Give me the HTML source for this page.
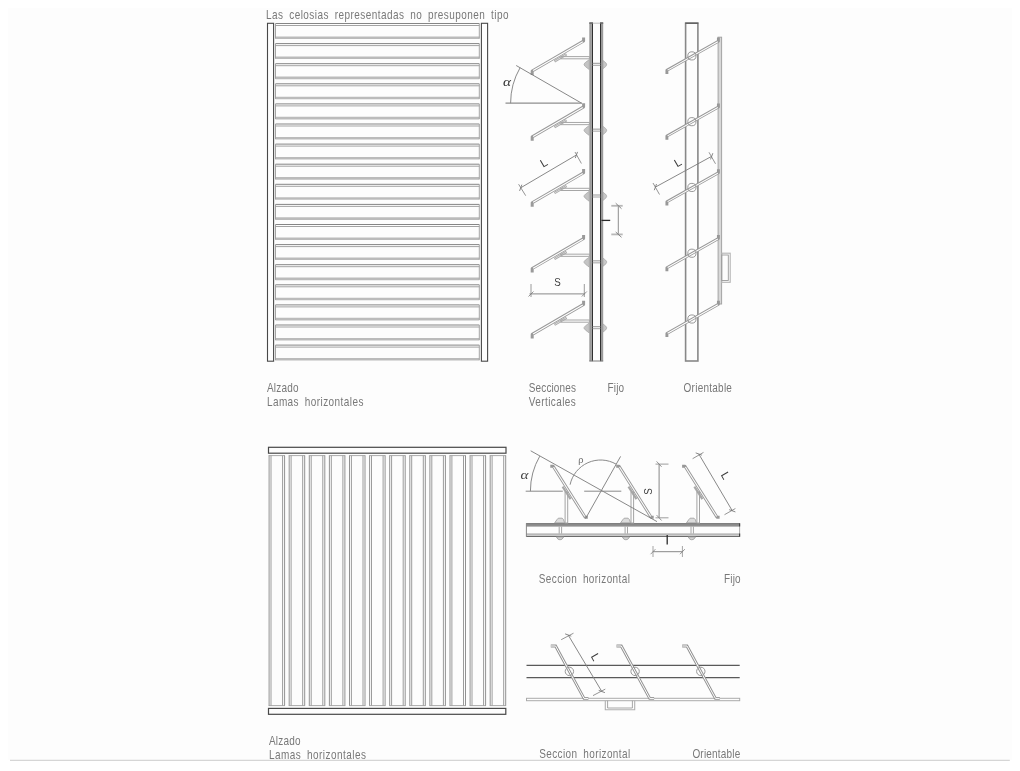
<!DOCTYPE html>
<html><head><meta charset="utf-8"><title>Celosias</title>
<style>
html,body{margin:0;padding:0;background:#fff;}
body{width:1020px;height:771px;overflow:hidden;}
svg{display:block;will-change:transform;font-family:"Liberation Sans",sans-serif;}
</style></head><body>
<svg width="1020" height="771" viewBox="0 0 1020 771">
<rect width="1020" height="771" fill="#fff"/>
<rect x="8" y="8" width="1004" height="752" fill="#fdfdfd"/>
<rect x="267.5" y="23.3" width="6.1" height="337.9" fill="none" stroke="#484848" stroke-width="1.1"/>
<rect x="481.4" y="23.3" width="6.2" height="337.9" fill="none" stroke="#484848" stroke-width="1.1"/>
<line x1="275.5" y1="23.5" x2="479.3" y2="23.5" stroke="#858585" stroke-width="1.0"/>
<line x1="275.5" y1="25.5" x2="479.3" y2="25.5" stroke="#999" stroke-width="0.9"/>
<line x1="275.5" y1="37.7" x2="479.3" y2="37.7" stroke="#bbbbbb" stroke-width="2.6"/>
<line x1="275.5" y1="23.5" x2="275.5" y2="38.6" stroke="#9a9a9a" stroke-width="0.9"/>
<line x1="479.3" y1="23.5" x2="479.3" y2="38.6" stroke="#9a9a9a" stroke-width="0.9"/>
<line x1="275.5" y1="43.6" x2="479.3" y2="43.6" stroke="#858585" stroke-width="1.0"/>
<line x1="275.5" y1="45.6" x2="479.3" y2="45.6" stroke="#999" stroke-width="0.9"/>
<line x1="275.5" y1="57.8" x2="479.3" y2="57.8" stroke="#bbbbbb" stroke-width="2.6"/>
<line x1="275.5" y1="43.6" x2="275.5" y2="58.7" stroke="#9a9a9a" stroke-width="0.9"/>
<line x1="479.3" y1="43.6" x2="479.3" y2="58.7" stroke="#9a9a9a" stroke-width="0.9"/>
<line x1="275.5" y1="63.7" x2="479.3" y2="63.7" stroke="#858585" stroke-width="1.0"/>
<line x1="275.5" y1="65.7" x2="479.3" y2="65.7" stroke="#999" stroke-width="0.9"/>
<line x1="275.5" y1="77.9" x2="479.3" y2="77.9" stroke="#bbbbbb" stroke-width="2.6"/>
<line x1="275.5" y1="63.7" x2="275.5" y2="78.8" stroke="#9a9a9a" stroke-width="0.9"/>
<line x1="479.3" y1="63.7" x2="479.3" y2="78.8" stroke="#9a9a9a" stroke-width="0.9"/>
<line x1="275.5" y1="83.8" x2="479.3" y2="83.8" stroke="#858585" stroke-width="1.0"/>
<line x1="275.5" y1="85.8" x2="479.3" y2="85.8" stroke="#999" stroke-width="0.9"/>
<line x1="275.5" y1="98" x2="479.3" y2="98" stroke="#bbbbbb" stroke-width="2.6"/>
<line x1="275.5" y1="83.8" x2="275.5" y2="98.9" stroke="#9a9a9a" stroke-width="0.9"/>
<line x1="479.3" y1="83.8" x2="479.3" y2="98.9" stroke="#9a9a9a" stroke-width="0.9"/>
<line x1="275.5" y1="103.9" x2="479.3" y2="103.9" stroke="#858585" stroke-width="1.0"/>
<line x1="275.5" y1="105.9" x2="479.3" y2="105.9" stroke="#999" stroke-width="0.9"/>
<line x1="275.5" y1="118.1" x2="479.3" y2="118.1" stroke="#bbbbbb" stroke-width="2.6"/>
<line x1="275.5" y1="103.9" x2="275.5" y2="119" stroke="#9a9a9a" stroke-width="0.9"/>
<line x1="479.3" y1="103.9" x2="479.3" y2="119" stroke="#9a9a9a" stroke-width="0.9"/>
<line x1="275.5" y1="124" x2="479.3" y2="124" stroke="#858585" stroke-width="1.0"/>
<line x1="275.5" y1="126" x2="479.3" y2="126" stroke="#999" stroke-width="0.9"/>
<line x1="275.5" y1="138.2" x2="479.3" y2="138.2" stroke="#bbbbbb" stroke-width="2.6"/>
<line x1="275.5" y1="124" x2="275.5" y2="139.1" stroke="#9a9a9a" stroke-width="0.9"/>
<line x1="479.3" y1="124" x2="479.3" y2="139.1" stroke="#9a9a9a" stroke-width="0.9"/>
<line x1="275.5" y1="144.1" x2="479.3" y2="144.1" stroke="#858585" stroke-width="1.0"/>
<line x1="275.5" y1="146.1" x2="479.3" y2="146.1" stroke="#999" stroke-width="0.9"/>
<line x1="275.5" y1="158.3" x2="479.3" y2="158.3" stroke="#bbbbbb" stroke-width="2.6"/>
<line x1="275.5" y1="144.1" x2="275.5" y2="159.2" stroke="#9a9a9a" stroke-width="0.9"/>
<line x1="479.3" y1="144.1" x2="479.3" y2="159.2" stroke="#9a9a9a" stroke-width="0.9"/>
<line x1="275.5" y1="164.2" x2="479.3" y2="164.2" stroke="#858585" stroke-width="1.0"/>
<line x1="275.5" y1="166.2" x2="479.3" y2="166.2" stroke="#999" stroke-width="0.9"/>
<line x1="275.5" y1="178.4" x2="479.3" y2="178.4" stroke="#bbbbbb" stroke-width="2.6"/>
<line x1="275.5" y1="164.2" x2="275.5" y2="179.3" stroke="#9a9a9a" stroke-width="0.9"/>
<line x1="479.3" y1="164.2" x2="479.3" y2="179.3" stroke="#9a9a9a" stroke-width="0.9"/>
<line x1="275.5" y1="184.3" x2="479.3" y2="184.3" stroke="#858585" stroke-width="1.0"/>
<line x1="275.5" y1="186.3" x2="479.3" y2="186.3" stroke="#999" stroke-width="0.9"/>
<line x1="275.5" y1="198.5" x2="479.3" y2="198.5" stroke="#bbbbbb" stroke-width="2.6"/>
<line x1="275.5" y1="184.3" x2="275.5" y2="199.4" stroke="#9a9a9a" stroke-width="0.9"/>
<line x1="479.3" y1="184.3" x2="479.3" y2="199.4" stroke="#9a9a9a" stroke-width="0.9"/>
<line x1="275.5" y1="204.4" x2="479.3" y2="204.4" stroke="#858585" stroke-width="1.0"/>
<line x1="275.5" y1="206.4" x2="479.3" y2="206.4" stroke="#999" stroke-width="0.9"/>
<line x1="275.5" y1="218.6" x2="479.3" y2="218.6" stroke="#bbbbbb" stroke-width="2.6"/>
<line x1="275.5" y1="204.4" x2="275.5" y2="219.5" stroke="#9a9a9a" stroke-width="0.9"/>
<line x1="479.3" y1="204.4" x2="479.3" y2="219.5" stroke="#9a9a9a" stroke-width="0.9"/>
<line x1="275.5" y1="224.5" x2="479.3" y2="224.5" stroke="#858585" stroke-width="1.0"/>
<line x1="275.5" y1="226.5" x2="479.3" y2="226.5" stroke="#999" stroke-width="0.9"/>
<line x1="275.5" y1="238.7" x2="479.3" y2="238.7" stroke="#bbbbbb" stroke-width="2.6"/>
<line x1="275.5" y1="224.5" x2="275.5" y2="239.6" stroke="#9a9a9a" stroke-width="0.9"/>
<line x1="479.3" y1="224.5" x2="479.3" y2="239.6" stroke="#9a9a9a" stroke-width="0.9"/>
<line x1="275.5" y1="244.6" x2="479.3" y2="244.6" stroke="#858585" stroke-width="1.0"/>
<line x1="275.5" y1="246.6" x2="479.3" y2="246.6" stroke="#999" stroke-width="0.9"/>
<line x1="275.5" y1="258.8" x2="479.3" y2="258.8" stroke="#bbbbbb" stroke-width="2.6"/>
<line x1="275.5" y1="244.6" x2="275.5" y2="259.7" stroke="#9a9a9a" stroke-width="0.9"/>
<line x1="479.3" y1="244.6" x2="479.3" y2="259.7" stroke="#9a9a9a" stroke-width="0.9"/>
<line x1="275.5" y1="264.7" x2="479.3" y2="264.7" stroke="#858585" stroke-width="1.0"/>
<line x1="275.5" y1="266.7" x2="479.3" y2="266.7" stroke="#999" stroke-width="0.9"/>
<line x1="275.5" y1="278.9" x2="479.3" y2="278.9" stroke="#bbbbbb" stroke-width="2.6"/>
<line x1="275.5" y1="264.7" x2="275.5" y2="279.8" stroke="#9a9a9a" stroke-width="0.9"/>
<line x1="479.3" y1="264.7" x2="479.3" y2="279.8" stroke="#9a9a9a" stroke-width="0.9"/>
<line x1="275.5" y1="284.8" x2="479.3" y2="284.8" stroke="#858585" stroke-width="1.0"/>
<line x1="275.5" y1="286.8" x2="479.3" y2="286.8" stroke="#999" stroke-width="0.9"/>
<line x1="275.5" y1="299" x2="479.3" y2="299" stroke="#bbbbbb" stroke-width="2.6"/>
<line x1="275.5" y1="284.8" x2="275.5" y2="299.9" stroke="#9a9a9a" stroke-width="0.9"/>
<line x1="479.3" y1="284.8" x2="479.3" y2="299.9" stroke="#9a9a9a" stroke-width="0.9"/>
<line x1="275.5" y1="304.9" x2="479.3" y2="304.9" stroke="#858585" stroke-width="1.0"/>
<line x1="275.5" y1="306.9" x2="479.3" y2="306.9" stroke="#999" stroke-width="0.9"/>
<line x1="275.5" y1="319.1" x2="479.3" y2="319.1" stroke="#bbbbbb" stroke-width="2.6"/>
<line x1="275.5" y1="304.9" x2="275.5" y2="320" stroke="#9a9a9a" stroke-width="0.9"/>
<line x1="479.3" y1="304.9" x2="479.3" y2="320" stroke="#9a9a9a" stroke-width="0.9"/>
<line x1="275.5" y1="325" x2="479.3" y2="325" stroke="#858585" stroke-width="1.0"/>
<line x1="275.5" y1="327" x2="479.3" y2="327" stroke="#999" stroke-width="0.9"/>
<line x1="275.5" y1="339.2" x2="479.3" y2="339.2" stroke="#bbbbbb" stroke-width="2.6"/>
<line x1="275.5" y1="325" x2="275.5" y2="340.1" stroke="#9a9a9a" stroke-width="0.9"/>
<line x1="479.3" y1="325" x2="479.3" y2="340.1" stroke="#9a9a9a" stroke-width="0.9"/>
<line x1="275.5" y1="345.1" x2="479.3" y2="345.1" stroke="#858585" stroke-width="1.0"/>
<line x1="275.5" y1="347.1" x2="479.3" y2="347.1" stroke="#999" stroke-width="0.9"/>
<line x1="275.5" y1="359.3" x2="479.3" y2="359.3" stroke="#bbbbbb" stroke-width="2.6"/>
<line x1="275.5" y1="345.1" x2="275.5" y2="360.2" stroke="#9a9a9a" stroke-width="0.9"/>
<line x1="479.3" y1="345.1" x2="479.3" y2="360.2" stroke="#9a9a9a" stroke-width="0.9"/>
<rect x="589.3" y="22.8" width="2.6" height="338.4" fill="#9a9a9a"/>
<rect x="600.9" y="22.8" width="2.3" height="338.4" fill="#9a9a9a"/>
<line x1="592.5" y1="22.8" x2="592.5" y2="361.2" stroke="#303030" stroke-width="1.0"/>
<line x1="600.5" y1="22.8" x2="600.5" y2="361.2" stroke="#303030" stroke-width="1.0"/>
<line x1="589.3" y1="23.2" x2="603.2" y2="23.2" stroke="#b8b8b8" stroke-width="0.9"/>
<line x1="589.3" y1="23" x2="592.9" y2="23" stroke="#484848" stroke-width="1.2"/>
<line x1="600.1" y1="23" x2="603.2" y2="23" stroke="#484848" stroke-width="1.2"/>
<line x1="589.3" y1="361" x2="603.2" y2="361" stroke="#7a7a7a" stroke-width="1.0"/>
<path d="M583.6,37.4 L583.6,41 L532.2,71 L532.2,75" fill="none" stroke="#9a9a9a" stroke-width="3.0" stroke-linejoin="round"/>
<line x1="582.8" y1="41.7" x2="533.1" y2="70.6" stroke="#fff" stroke-width="1.1"/>
<path d="M566.56,54.32 L554.47,61.38" stroke="#a8a8a8" stroke-width="2.4"/>
<line x1="566.21" y1="54.52" x2="554.81" y2="61.18" stroke="#f6f6f6" stroke-width="0.6"/>
<rect x="561" y="56.6" width="28.4" height="2.2" fill="none" stroke="#a6a6a6" stroke-width="1"/>
<path d="M589.3,59.6 L585.6,62.3 L584.1,64 L584.1,65 L585.6,66.8 L589.3,69.6 Z" fill="#c4c4c4" stroke="#a4a4a4" stroke-width="0.7"/>
<path d="M603.1,60.6 L605.6,62.6 L606.6,64 L606.6,65 L605.6,66.6 L603.1,68.6 Z" fill="#c8c8c8" stroke="#a4a4a4" stroke-width="0.7"/>
<line x1="592.5" y1="63.3" x2="600.5" y2="63.3" stroke="#8a8a8a" stroke-width="0.9"/>
<line x1="592.5" y1="65.3" x2="600.5" y2="65.3" stroke="#999" stroke-width="0.9"/>
<path d="M583.6,103.25 L583.6,106.85 L532.2,136.85 L532.2,140.85" fill="none" stroke="#9a9a9a" stroke-width="3.0" stroke-linejoin="round"/>
<line x1="582.8" y1="107.55" x2="533.1" y2="136.45" stroke="#fff" stroke-width="1.1"/>
<path d="M566.56,120.17 L554.47,127.23" stroke="#a8a8a8" stroke-width="2.4"/>
<line x1="566.21" y1="120.37" x2="554.81" y2="127.03" stroke="#f6f6f6" stroke-width="0.6"/>
<rect x="561" y="122.45" width="28.4" height="2.2" fill="none" stroke="#a6a6a6" stroke-width="1"/>
<path d="M589.3,125.45 L585.6,128.15 L584.1,129.85 L584.1,130.85 L585.6,132.65 L589.3,135.45 Z" fill="#c4c4c4" stroke="#a4a4a4" stroke-width="0.7"/>
<path d="M603.1,126.45 L605.6,128.45 L606.6,129.85 L606.6,130.85 L605.6,132.45 L603.1,134.45 Z" fill="#c8c8c8" stroke="#a4a4a4" stroke-width="0.7"/>
<line x1="592.5" y1="129.15" x2="600.5" y2="129.15" stroke="#8a8a8a" stroke-width="0.9"/>
<line x1="592.5" y1="131.15" x2="600.5" y2="131.15" stroke="#999" stroke-width="0.9"/>
<path d="M583.6,169.1 L583.6,172.7 L532.2,202.7 L532.2,206.7" fill="none" stroke="#9a9a9a" stroke-width="3.0" stroke-linejoin="round"/>
<line x1="582.8" y1="173.4" x2="533.1" y2="202.3" stroke="#fff" stroke-width="1.1"/>
<path d="M566.56,186.02 L554.47,193.08" stroke="#a8a8a8" stroke-width="2.4"/>
<line x1="566.21" y1="186.22" x2="554.81" y2="192.88" stroke="#f6f6f6" stroke-width="0.6"/>
<rect x="561" y="188.3" width="28.4" height="2.2" fill="none" stroke="#a6a6a6" stroke-width="1"/>
<path d="M589.3,191.3 L585.6,194 L584.1,195.7 L584.1,196.7 L585.6,198.5 L589.3,201.3 Z" fill="#c4c4c4" stroke="#a4a4a4" stroke-width="0.7"/>
<path d="M603.1,192.3 L605.6,194.3 L606.6,195.7 L606.6,196.7 L605.6,198.3 L603.1,200.3 Z" fill="#c8c8c8" stroke="#a4a4a4" stroke-width="0.7"/>
<line x1="592.5" y1="195" x2="600.5" y2="195" stroke="#8a8a8a" stroke-width="0.9"/>
<line x1="592.5" y1="197" x2="600.5" y2="197" stroke="#999" stroke-width="0.9"/>
<path d="M583.6,234.95 L583.6,238.55 L532.2,268.55 L532.2,272.55" fill="none" stroke="#9a9a9a" stroke-width="3.0" stroke-linejoin="round"/>
<line x1="582.8" y1="239.25" x2="533.1" y2="268.15" stroke="#fff" stroke-width="1.1"/>
<path d="M566.56,251.87 L554.47,258.93" stroke="#a8a8a8" stroke-width="2.4"/>
<line x1="566.21" y1="252.07" x2="554.81" y2="258.73" stroke="#f6f6f6" stroke-width="0.6"/>
<rect x="561" y="254.15" width="28.4" height="2.2" fill="none" stroke="#a6a6a6" stroke-width="1"/>
<path d="M589.3,257.15 L585.6,259.85 L584.1,261.55 L584.1,262.55 L585.6,264.35 L589.3,267.15 Z" fill="#c4c4c4" stroke="#a4a4a4" stroke-width="0.7"/>
<path d="M603.1,258.15 L605.6,260.15 L606.6,261.55 L606.6,262.55 L605.6,264.15 L603.1,266.15 Z" fill="#c8c8c8" stroke="#a4a4a4" stroke-width="0.7"/>
<line x1="592.5" y1="260.85" x2="600.5" y2="260.85" stroke="#8a8a8a" stroke-width="0.9"/>
<line x1="592.5" y1="262.85" x2="600.5" y2="262.85" stroke="#999" stroke-width="0.9"/>
<path d="M583.6,300.8 L583.6,304.4 L532.2,334.4 L532.2,338.4" fill="none" stroke="#9a9a9a" stroke-width="3.0" stroke-linejoin="round"/>
<line x1="582.8" y1="305.1" x2="533.1" y2="334" stroke="#fff" stroke-width="1.1"/>
<path d="M566.56,317.72 L554.47,324.78" stroke="#a8a8a8" stroke-width="2.4"/>
<line x1="566.21" y1="317.92" x2="554.81" y2="324.58" stroke="#f6f6f6" stroke-width="0.6"/>
<rect x="561" y="320" width="28.4" height="2.2" fill="none" stroke="#a6a6a6" stroke-width="1"/>
<path d="M589.3,323 L585.6,325.7 L584.1,327.4 L584.1,328.4 L585.6,330.2 L589.3,333 Z" fill="#c4c4c4" stroke="#a4a4a4" stroke-width="0.7"/>
<path d="M603.1,324 L605.6,326 L606.6,327.4 L606.6,328.4 L605.6,330 L603.1,332 Z" fill="#c8c8c8" stroke="#a4a4a4" stroke-width="0.7"/>
<line x1="592.5" y1="326.7" x2="600.5" y2="326.7" stroke="#8a8a8a" stroke-width="0.9"/>
<line x1="592.5" y1="328.7" x2="600.5" y2="328.7" stroke="#999" stroke-width="0.9"/>
<line x1="516.2" y1="65.5" x2="581.8" y2="103.3" stroke="#7a7a7a" stroke-width="0.9"/>
<line x1="505.5" y1="103.2" x2="581.8" y2="103.2" stroke="#8e8e8e" stroke-width="1.2"/>
<path d="M510.6,103.2 A71.0,71.0 0 0 1 520.11,67.7" fill="none" stroke="#8a8a8a" stroke-width="1"/>
<text x="503" y="86" font-family="Liberation Serif" font-style="italic" font-size="13" fill="#333" textLength="8" lengthAdjust="spacingAndGlyphs">α</text>
<line x1="520.7" y1="187.8" x2="576.4" y2="155" stroke="#7a7a7a" stroke-width="0.9"/>
<line x1="518.6" y1="184.2" x2="525.7" y2="195.7" stroke="#7a7a7a" stroke-width="0.8"/>
<line x1="575" y1="152" x2="581.4" y2="163.5" stroke="#7a7a7a" stroke-width="0.8"/>
<line x1="521.83" y1="184.7" x2="519.57" y2="190.9" stroke="#7a7a7a" stroke-width="0.9"/>
<line x1="577.53" y1="151.9" x2="575.27" y2="158.1" stroke="#7a7a7a" stroke-width="0.9"/>
<text x="0" y="0" transform="translate(543.0,167.8) rotate(-30)" font-size="11.5" fill="#3c3c3c">L</text>
<line x1="618.3" y1="205.8" x2="618.3" y2="234.4" stroke="#8e8e8e" stroke-width="1.0"/>
<line x1="611.3" y1="205.8" x2="622.7" y2="205.8" stroke="#b8b8b8" stroke-width="1.8"/>
<line x1="611.3" y1="234.4" x2="622.7" y2="234.4" stroke="#b8b8b8" stroke-width="1.8"/>
<line x1="615.7" y1="203.2" x2="621.5" y2="208.7" stroke="#7a7a7a" stroke-width="0.9"/>
<line x1="615.7" y1="232" x2="621.5" y2="237.3" stroke="#7a7a7a" stroke-width="0.9"/>
<line x1="601.5" y1="220.4" x2="610.2" y2="220.4" stroke="#2a2a2a" stroke-width="1.3"/>
<line x1="529.5" y1="293.9" x2="584.9" y2="293.9" stroke="#7a7a7a" stroke-width="0.9"/>
<line x1="531" y1="284" x2="531" y2="297" stroke="#9a9a9a" stroke-width="1.0"/>
<line x1="584.3" y1="284" x2="584.3" y2="297" stroke="#9a9a9a" stroke-width="1.0"/>
<line x1="528.5" y1="296.5" x2="533.5" y2="291.5" stroke="#7a7a7a" stroke-width="0.8"/>
<line x1="581.8" y1="296.5" x2="586.8" y2="291.5" stroke="#7a7a7a" stroke-width="0.8"/>
<text x="554.2" y="285.6" font-size="11.6" fill="#3c3c3c" textLength="6.5" lengthAdjust="spacingAndGlyphs">S</text>
<rect x="685.6" y="23.2" width="12.3" height="337.8" fill="none" stroke="#888" stroke-width="1.6"/>
<line x1="685.2" y1="23.2" x2="698.3" y2="23.2" stroke="#606060" stroke-width="1.4"/>
<rect x="718.1" y="37.2" width="3.5" height="266.8" fill="#d8d8d8" stroke="#a4a4a4" stroke-width="1.0"/>
<rect x="721.7" y="253.2" width="8.5" height="29.1" fill="none" stroke="#b4b4b4" stroke-width="1.1"/>
<rect x="721.7" y="255.0" width="6.6" height="25.5" fill="none" stroke="#9a9a9a" stroke-width="0.9"/>
<path d="M666.9,74 L666.9,70.3 L718.4,41.2 L718.4,37.6" fill="none" stroke="#989898" stroke-width="2.9" stroke-linejoin="round"/>
<line x1="667.6" y1="70.1" x2="717.8" y2="41.7" stroke="#fff" stroke-width="1.05"/>
<circle cx="691.9" cy="55.9" r="4.1" fill="none" stroke="#999" stroke-width="1"/>
<path d="M666.9,139.78 L666.9,136.08 L718.4,106.98 L718.4,103.38" fill="none" stroke="#989898" stroke-width="2.9" stroke-linejoin="round"/>
<line x1="667.6" y1="135.88" x2="717.8" y2="107.48" stroke="#fff" stroke-width="1.05"/>
<circle cx="691.9" cy="121.68" r="4.1" fill="none" stroke="#999" stroke-width="1"/>
<path d="M666.9,205.56 L666.9,201.86 L718.4,172.76 L718.4,169.16" fill="none" stroke="#989898" stroke-width="2.9" stroke-linejoin="round"/>
<line x1="667.6" y1="201.66" x2="717.8" y2="173.26" stroke="#fff" stroke-width="1.05"/>
<circle cx="691.9" cy="187.46" r="4.1" fill="none" stroke="#999" stroke-width="1"/>
<path d="M666.9,271.34 L666.9,267.64 L718.4,238.54 L718.4,234.94" fill="none" stroke="#989898" stroke-width="2.9" stroke-linejoin="round"/>
<line x1="667.6" y1="267.44" x2="717.8" y2="239.04" stroke="#fff" stroke-width="1.05"/>
<circle cx="691.9" cy="253.24" r="4.1" fill="none" stroke="#999" stroke-width="1"/>
<path d="M666.9,337.12 L666.9,333.42 L718.4,304.32 L718.4,300.72" fill="none" stroke="#989898" stroke-width="2.9" stroke-linejoin="round"/>
<line x1="667.6" y1="333.22" x2="717.8" y2="304.82" stroke="#fff" stroke-width="1.05"/>
<circle cx="691.9" cy="319.02" r="4.1" fill="none" stroke="#999" stroke-width="1"/>
<line x1="655.4" y1="187.1" x2="711.7" y2="156.3" stroke="#7a7a7a" stroke-width="0.9"/>
<line x1="653" y1="183" x2="659.5" y2="194.5" stroke="#7a7a7a" stroke-width="0.8"/>
<line x1="709" y1="152.3" x2="715.5" y2="163.8" stroke="#7a7a7a" stroke-width="0.8"/>
<line x1="656.53" y1="184" x2="654.27" y2="190.2" stroke="#7a7a7a" stroke-width="0.9"/>
<line x1="712.83" y1="153.2" x2="710.57" y2="159.4" stroke="#7a7a7a" stroke-width="0.9"/>
<text x="0" y="0" transform="translate(677.0,167.5) rotate(-30)" font-size="11.5" fill="#3c3c3c">L</text>
<rect x="268.5" y="447.3" width="237.5" height="5.9" fill="none" stroke="#484848" stroke-width="1.2"/>
<rect x="268.5" y="708.4" width="237.3" height="5.9" fill="none" stroke="#484848" stroke-width="1.2"/>
<line x1="268.6" y1="455.6" x2="285" y2="455.6" stroke="#aaa" stroke-width="1.0"/>
<line x1="268.6" y1="705.6" x2="285" y2="705.6" stroke="#aaa" stroke-width="1.0"/>
<line x1="269.1" y1="455.6" x2="269.1" y2="705.6" stroke="#929292" stroke-width="1.0"/>
<line x1="271" y1="455.6" x2="271" y2="705.6" stroke="#9c9c9c" stroke-width="1.0"/>
<line x1="282.6" y1="455.6" x2="282.6" y2="705.6" stroke="#9c9c9c" stroke-width="1.0"/>
<line x1="284.6" y1="455.6" x2="284.6" y2="705.6" stroke="#929292" stroke-width="1.0"/>
<line x1="288.7" y1="455.6" x2="305.1" y2="455.6" stroke="#aaa" stroke-width="1.0"/>
<line x1="288.7" y1="705.6" x2="305.1" y2="705.6" stroke="#aaa" stroke-width="1.0"/>
<line x1="289.2" y1="455.6" x2="289.2" y2="705.6" stroke="#929292" stroke-width="1.0"/>
<line x1="291.1" y1="455.6" x2="291.1" y2="705.6" stroke="#9c9c9c" stroke-width="1.0"/>
<line x1="302.7" y1="455.6" x2="302.7" y2="705.6" stroke="#9c9c9c" stroke-width="1.0"/>
<line x1="304.7" y1="455.6" x2="304.7" y2="705.6" stroke="#929292" stroke-width="1.0"/>
<line x1="308.8" y1="455.6" x2="325.2" y2="455.6" stroke="#aaa" stroke-width="1.0"/>
<line x1="308.8" y1="705.6" x2="325.2" y2="705.6" stroke="#aaa" stroke-width="1.0"/>
<line x1="309.3" y1="455.6" x2="309.3" y2="705.6" stroke="#929292" stroke-width="1.0"/>
<line x1="311.2" y1="455.6" x2="311.2" y2="705.6" stroke="#9c9c9c" stroke-width="1.0"/>
<line x1="322.8" y1="455.6" x2="322.8" y2="705.6" stroke="#9c9c9c" stroke-width="1.0"/>
<line x1="324.8" y1="455.6" x2="324.8" y2="705.6" stroke="#929292" stroke-width="1.0"/>
<line x1="328.9" y1="455.6" x2="345.3" y2="455.6" stroke="#aaa" stroke-width="1.0"/>
<line x1="328.9" y1="705.6" x2="345.3" y2="705.6" stroke="#aaa" stroke-width="1.0"/>
<line x1="329.4" y1="455.6" x2="329.4" y2="705.6" stroke="#929292" stroke-width="1.0"/>
<line x1="331.3" y1="455.6" x2="331.3" y2="705.6" stroke="#9c9c9c" stroke-width="1.0"/>
<line x1="342.9" y1="455.6" x2="342.9" y2="705.6" stroke="#9c9c9c" stroke-width="1.0"/>
<line x1="344.9" y1="455.6" x2="344.9" y2="705.6" stroke="#929292" stroke-width="1.0"/>
<line x1="349" y1="455.6" x2="365.4" y2="455.6" stroke="#aaa" stroke-width="1.0"/>
<line x1="349" y1="705.6" x2="365.4" y2="705.6" stroke="#aaa" stroke-width="1.0"/>
<line x1="349.5" y1="455.6" x2="349.5" y2="705.6" stroke="#929292" stroke-width="1.0"/>
<line x1="351.4" y1="455.6" x2="351.4" y2="705.6" stroke="#9c9c9c" stroke-width="1.0"/>
<line x1="363" y1="455.6" x2="363" y2="705.6" stroke="#9c9c9c" stroke-width="1.0"/>
<line x1="365" y1="455.6" x2="365" y2="705.6" stroke="#929292" stroke-width="1.0"/>
<line x1="369.1" y1="455.6" x2="385.5" y2="455.6" stroke="#aaa" stroke-width="1.0"/>
<line x1="369.1" y1="705.6" x2="385.5" y2="705.6" stroke="#aaa" stroke-width="1.0"/>
<line x1="369.6" y1="455.6" x2="369.6" y2="705.6" stroke="#929292" stroke-width="1.0"/>
<line x1="371.5" y1="455.6" x2="371.5" y2="705.6" stroke="#9c9c9c" stroke-width="1.0"/>
<line x1="383.1" y1="455.6" x2="383.1" y2="705.6" stroke="#9c9c9c" stroke-width="1.0"/>
<line x1="385.1" y1="455.6" x2="385.1" y2="705.6" stroke="#929292" stroke-width="1.0"/>
<line x1="389.2" y1="455.6" x2="405.6" y2="455.6" stroke="#aaa" stroke-width="1.0"/>
<line x1="389.2" y1="705.6" x2="405.6" y2="705.6" stroke="#aaa" stroke-width="1.0"/>
<line x1="389.7" y1="455.6" x2="389.7" y2="705.6" stroke="#929292" stroke-width="1.0"/>
<line x1="391.6" y1="455.6" x2="391.6" y2="705.6" stroke="#9c9c9c" stroke-width="1.0"/>
<line x1="403.2" y1="455.6" x2="403.2" y2="705.6" stroke="#9c9c9c" stroke-width="1.0"/>
<line x1="405.2" y1="455.6" x2="405.2" y2="705.6" stroke="#929292" stroke-width="1.0"/>
<line x1="409.3" y1="455.6" x2="425.7" y2="455.6" stroke="#aaa" stroke-width="1.0"/>
<line x1="409.3" y1="705.6" x2="425.7" y2="705.6" stroke="#aaa" stroke-width="1.0"/>
<line x1="409.8" y1="455.6" x2="409.8" y2="705.6" stroke="#929292" stroke-width="1.0"/>
<line x1="411.7" y1="455.6" x2="411.7" y2="705.6" stroke="#9c9c9c" stroke-width="1.0"/>
<line x1="423.3" y1="455.6" x2="423.3" y2="705.6" stroke="#9c9c9c" stroke-width="1.0"/>
<line x1="425.3" y1="455.6" x2="425.3" y2="705.6" stroke="#929292" stroke-width="1.0"/>
<line x1="429.4" y1="455.6" x2="445.8" y2="455.6" stroke="#aaa" stroke-width="1.0"/>
<line x1="429.4" y1="705.6" x2="445.8" y2="705.6" stroke="#aaa" stroke-width="1.0"/>
<line x1="429.9" y1="455.6" x2="429.9" y2="705.6" stroke="#929292" stroke-width="1.0"/>
<line x1="431.8" y1="455.6" x2="431.8" y2="705.6" stroke="#9c9c9c" stroke-width="1.0"/>
<line x1="443.4" y1="455.6" x2="443.4" y2="705.6" stroke="#9c9c9c" stroke-width="1.0"/>
<line x1="445.4" y1="455.6" x2="445.4" y2="705.6" stroke="#929292" stroke-width="1.0"/>
<line x1="449.5" y1="455.6" x2="465.9" y2="455.6" stroke="#aaa" stroke-width="1.0"/>
<line x1="449.5" y1="705.6" x2="465.9" y2="705.6" stroke="#aaa" stroke-width="1.0"/>
<line x1="450" y1="455.6" x2="450" y2="705.6" stroke="#929292" stroke-width="1.0"/>
<line x1="451.9" y1="455.6" x2="451.9" y2="705.6" stroke="#9c9c9c" stroke-width="1.0"/>
<line x1="463.5" y1="455.6" x2="463.5" y2="705.6" stroke="#9c9c9c" stroke-width="1.0"/>
<line x1="465.5" y1="455.6" x2="465.5" y2="705.6" stroke="#929292" stroke-width="1.0"/>
<line x1="469.6" y1="455.6" x2="486" y2="455.6" stroke="#aaa" stroke-width="1.0"/>
<line x1="469.6" y1="705.6" x2="486" y2="705.6" stroke="#aaa" stroke-width="1.0"/>
<line x1="470.1" y1="455.6" x2="470.1" y2="705.6" stroke="#929292" stroke-width="1.0"/>
<line x1="472" y1="455.6" x2="472" y2="705.6" stroke="#9c9c9c" stroke-width="1.0"/>
<line x1="483.6" y1="455.6" x2="483.6" y2="705.6" stroke="#9c9c9c" stroke-width="1.0"/>
<line x1="485.6" y1="455.6" x2="485.6" y2="705.6" stroke="#929292" stroke-width="1.0"/>
<line x1="489.7" y1="455.6" x2="506.1" y2="455.6" stroke="#aaa" stroke-width="1.0"/>
<line x1="489.7" y1="705.6" x2="506.1" y2="705.6" stroke="#aaa" stroke-width="1.0"/>
<line x1="490.2" y1="455.6" x2="490.2" y2="705.6" stroke="#929292" stroke-width="1.0"/>
<line x1="492.1" y1="455.6" x2="492.1" y2="705.6" stroke="#9c9c9c" stroke-width="1.0"/>
<line x1="503.7" y1="455.6" x2="503.7" y2="705.6" stroke="#9c9c9c" stroke-width="1.0"/>
<line x1="505.7" y1="455.6" x2="505.7" y2="705.6" stroke="#929292" stroke-width="1.0"/>
<rect x="526.1" y="523.2" width="213.9" height="3.4" fill="#8e8e8e"/>
<line x1="526.1" y1="523.7" x2="740" y2="523.7" stroke="#777" stroke-width="1.0"/>
<line x1="526.1" y1="534.1" x2="740" y2="534.1" stroke="#8a8a8a" stroke-width="1.0"/>
<line x1="526.1" y1="536.3" x2="740" y2="536.3" stroke="#3a3a3a" stroke-width="1.1"/>
<line x1="526.4" y1="523.2" x2="526.4" y2="536.8" stroke="#888" stroke-width="1.0"/>
<line x1="739.6" y1="523.2" x2="739.6" y2="536.8" stroke="#aaa" stroke-width="1.0"/>
<line x1="739.6" y1="523.2" x2="739.6" y2="526.6" stroke="#444" stroke-width="1.2"/>
<line x1="739.6" y1="533.6" x2="739.6" y2="536.8" stroke="#444" stroke-width="1.2"/>
<path d="M550.3,466.3 L553.2,466.3 L585.2,517.2 L587.8,517.2" fill="none" stroke="#989898" stroke-width="2.9" stroke-linejoin="round"/>
<line x1="553.6" y1="467" x2="584.8" y2="516.5" stroke="#fff" stroke-width="1.05"/>
<path d="M562.6,486.6 L570.6,499.2" stroke="#a8a8a8" stroke-width="2.2"/>
<rect x="565.1" y="492" width="2.6" height="31" fill="none" stroke="#a4a4a4" stroke-width="1"/>
<path d="M554.7,522.8 L557,519.6 L558.3,518.2 L562.2,518.2 L563.5,519.6 L564.6,522.8 Z" fill="#dcdcdc" stroke="#9a9a9a" stroke-width="0.8"/>
<path d="M556.4,536.9 L558,539.2 L560,539.8 L562,539.2 L563.7,536.9 Z" fill="#d4d4d4" stroke="#9a9a9a" stroke-width="0.8"/>
<line x1="559.2" y1="526.6" x2="559.2" y2="533.6" stroke="#9c9c9c" stroke-width="0.9"/>
<line x1="561.6" y1="526.6" x2="561.6" y2="533.6" stroke="#9c9c9c" stroke-width="0.9"/>
<path d="M616.2,466.3 L619.1,466.3 L651.1,517.2 L653.7,517.2" fill="none" stroke="#989898" stroke-width="2.9" stroke-linejoin="round"/>
<line x1="619.5" y1="467" x2="650.7" y2="516.5" stroke="#fff" stroke-width="1.05"/>
<path d="M628.5,486.6 L636.5,499.2" stroke="#a8a8a8" stroke-width="2.2"/>
<rect x="631" y="492" width="2.6" height="31" fill="none" stroke="#a4a4a4" stroke-width="1"/>
<path d="M620.6,522.8 L622.9,519.6 L624.2,518.2 L628.1,518.2 L629.4,519.6 L630.5,522.8 Z" fill="#dcdcdc" stroke="#9a9a9a" stroke-width="0.8"/>
<path d="M622.3,536.9 L623.9,539.2 L625.9,539.8 L627.9,539.2 L629.6,536.9 Z" fill="#d4d4d4" stroke="#9a9a9a" stroke-width="0.8"/>
<line x1="625.1" y1="526.6" x2="625.1" y2="533.6" stroke="#9c9c9c" stroke-width="0.9"/>
<line x1="627.5" y1="526.6" x2="627.5" y2="533.6" stroke="#9c9c9c" stroke-width="0.9"/>
<path d="M682.1,466.3 L685,466.3 L717,517.2 L719.6,517.2" fill="none" stroke="#989898" stroke-width="2.9" stroke-linejoin="round"/>
<line x1="685.4" y1="467" x2="716.6" y2="516.5" stroke="#fff" stroke-width="1.05"/>
<path d="M694.4,486.6 L702.4,499.2" stroke="#a8a8a8" stroke-width="2.2"/>
<rect x="696.9" y="492" width="2.6" height="31" fill="none" stroke="#a4a4a4" stroke-width="1"/>
<path d="M686.5,522.8 L688.8,519.6 L690.1,518.2 L694,518.2 L695.3,519.6 L696.4,522.8 Z" fill="#dcdcdc" stroke="#9a9a9a" stroke-width="0.8"/>
<path d="M688.2,536.9 L689.8,539.2 L691.8,539.8 L693.8,539.2 L695.5,536.9 Z" fill="#d4d4d4" stroke="#9a9a9a" stroke-width="0.8"/>
<line x1="691" y1="526.6" x2="691" y2="533.6" stroke="#9c9c9c" stroke-width="0.9"/>
<line x1="693.4" y1="526.6" x2="693.4" y2="533.6" stroke="#9c9c9c" stroke-width="0.9"/>
<line x1="530.7" y1="450.8" x2="657" y2="521.6" stroke="#7a7a7a" stroke-width="0.9"/>
<line x1="585.6" y1="518.5" x2="620.6" y2="456.4" stroke="#7a7a7a" stroke-width="0.9"/>
<line x1="525.7" y1="491.2" x2="562.8" y2="491.2" stroke="#888" stroke-width="1.0"/>
<line x1="584.2" y1="491.2" x2="621.3" y2="491.2" stroke="#888" stroke-width="1.0"/>
<path d="M530.4,491.2 A70.2,70.2 0 0 1 539.81,456.1" fill="none" stroke="#8a8a8a" stroke-width="1"/>
<path d="M570.08,484.71 A31.2,31.2 0 0 1 616.2,464.18" fill="none" stroke="#8a8a8a" stroke-width="1"/>
<text x="520.5" y="478.5" font-family="Liberation Serif" font-style="italic" font-size="13" fill="#444" textLength="8" lengthAdjust="spacingAndGlyphs">α</text>
<text x="578.3" y="462.8" font-size="9" fill="#666" textLength="5.2" lengthAdjust="spacingAndGlyphs">ρ</text>
<line x1="659.1" y1="464.1" x2="659.1" y2="517.8" stroke="#7a7a7a" stroke-width="0.9"/>
<line x1="655.5" y1="464.1" x2="668.5" y2="464.1" stroke="#a5a5a5" stroke-width="1.1"/>
<line x1="655.5" y1="517.8" x2="668.5" y2="517.8" stroke="#a5a5a5" stroke-width="1.1"/>
<line x1="656.6" y1="461.4" x2="661.6" y2="466.8" stroke="#7a7a7a" stroke-width="0.8"/>
<line x1="656.6" y1="515.1" x2="661.6" y2="520.5" stroke="#7a7a7a" stroke-width="0.8"/>
<text x="0" y="0" transform="translate(652.3,494.8) rotate(-90)" font-size="11.6" fill="#3c3c3c" textLength="6.5" lengthAdjust="spacingAndGlyphs">S</text>
<line x1="698.8" y1="454" x2="732.3" y2="510.8" stroke="#7a7a7a" stroke-width="0.9"/>
<line x1="692.6" y1="458.7" x2="703.5" y2="452.4" stroke="#7a7a7a" stroke-width="0.8"/>
<line x1="724.5" y1="514.7" x2="735.4" y2="508.5" stroke="#7a7a7a" stroke-width="0.8"/>
<line x1="695.7" y1="452.87" x2="701.9" y2="455.13" stroke="#7a7a7a" stroke-width="0.9"/>
<line x1="729.2" y1="509.67" x2="735.4" y2="511.93" stroke="#7a7a7a" stroke-width="0.9"/>
<text x="0" y="0" transform="translate(720.6,474.8) rotate(60)" font-size="11.5" fill="#3c3c3c">L</text>
<line x1="652.9" y1="551.7" x2="682.5" y2="551.7" stroke="#7a7a7a" stroke-width="0.9"/>
<line x1="653" y1="546" x2="653" y2="557" stroke="#a5a5a5" stroke-width="1.0"/>
<line x1="682.4" y1="546" x2="682.4" y2="557" stroke="#a5a5a5" stroke-width="1.0"/>
<line x1="650.6" y1="554.2" x2="655.4" y2="549.2" stroke="#7a7a7a" stroke-width="0.8"/>
<line x1="680" y1="554.2" x2="684.8" y2="549.2" stroke="#7a7a7a" stroke-width="0.8"/>
<line x1="667.2" y1="535" x2="667.2" y2="544.4" stroke="#2a2a2a" stroke-width="1.3"/>
<line x1="526.5" y1="665.4" x2="739.7" y2="665.4" stroke="#5a5a5a" stroke-width="1.3"/>
<line x1="526.5" y1="677.7" x2="739.7" y2="677.7" stroke="#5a5a5a" stroke-width="1.3"/>
<rect x="526.5" y="698.3" width="213.2" height="2.4" fill="none" stroke="#aaa" stroke-width="1"/>
<path d="M605.3,700.7 L605.3,709.7 L634.7,709.7 L634.7,700.7" fill="none" stroke="#b0b0b0" stroke-width="1.1"/>
<path d="M607.6,700.7 L607.6,708.0 L632.4,708.0 L632.4,700.7" fill="none" stroke="#9c9c9c" stroke-width="0.9"/>
<path d="M550.8,646.0 L555.6,646.0 L584,698.4 L588.4,698.4" fill="none" stroke="#939393" stroke-width="2.8" stroke-linejoin="miter"/>
<path d="M551,646.0 L555.6,646.0 L584,698.4 L588.2,698.4" fill="none" stroke="#fff" stroke-width="1.0" stroke-linejoin="miter"/>
<circle cx="569.4" cy="671.4" r="4.2" fill="none" stroke="#999" stroke-width="1"/>
<path d="M616.5,646.0 L621.3,646.0 L649.7,698.4 L654.1,698.4" fill="none" stroke="#939393" stroke-width="2.8" stroke-linejoin="miter"/>
<path d="M616.7,646.0 L621.3,646.0 L649.7,698.4 L653.9,698.4" fill="none" stroke="#fff" stroke-width="1.0" stroke-linejoin="miter"/>
<circle cx="635.1" cy="671.4" r="4.2" fill="none" stroke="#999" stroke-width="1"/>
<path d="M682.2,646.0 L687,646.0 L715.4,698.4 L719.8,698.4" fill="none" stroke="#939393" stroke-width="2.8" stroke-linejoin="miter"/>
<path d="M682.4,646.0 L687,646.0 L715.4,698.4 L719.6,698.4" fill="none" stroke="#fff" stroke-width="1.0" stroke-linejoin="miter"/>
<circle cx="700.8" cy="671.4" r="4.2" fill="none" stroke="#999" stroke-width="1"/>
<line x1="568.2" y1="635" x2="601.8" y2="691.5" stroke="#7a7a7a" stroke-width="0.9"/>
<line x1="561.2" y1="639.7" x2="573.5" y2="633.2" stroke="#7a7a7a" stroke-width="0.8"/>
<line x1="593" y1="695.6" x2="605.3" y2="689.1" stroke="#7a7a7a" stroke-width="0.8"/>
<line x1="565.1" y1="633.87" x2="571.3" y2="636.13" stroke="#7a7a7a" stroke-width="0.9"/>
<line x1="598.7" y1="690.37" x2="604.9" y2="692.63" stroke="#7a7a7a" stroke-width="0.9"/>
<text x="0" y="0" transform="translate(590.6,656.2) rotate(60)" font-size="11.5" fill="#3c3c3c">L</text>
<text transform="scale(0.84,1)" x="316.67" y="19.2" textLength="288.69" lengthAdjust="spacing" word-spacing="3" font-size="11.9" fill="#787878">Las celosias representadas no presuponen tipo</text>
<text transform="scale(0.84,1)" x="317.74" y="391.7" textLength="37.62" lengthAdjust="spacing" word-spacing="3" font-size="11.9" fill="#787878">Alzado</text>
<text transform="scale(0.84,1)" x="317.74" y="406.3" textLength="114.88" lengthAdjust="spacing" word-spacing="3" font-size="11.9" fill="#787878">Lamas horizontales</text>
<text transform="scale(0.84,1)" x="629.52" y="391.7" textLength="56.07" lengthAdjust="spacing" word-spacing="3" font-size="11.9" fill="#787878">Secciones</text>
<text transform="scale(0.84,1)" x="629.52" y="405.9" textLength="55.95" lengthAdjust="spacing" word-spacing="3" font-size="11.9" fill="#787878">Verticales</text>
<text transform="scale(0.84,1)" x="723.33" y="391.7" textLength="19.64" lengthAdjust="spacing" word-spacing="3" font-size="11.9" fill="#787878">Fijo</text>
<text transform="scale(0.84,1)" x="813.81" y="391.7" textLength="57.5" lengthAdjust="spacing" word-spacing="3" font-size="11.9" fill="#787878">Orientable</text>
<text transform="scale(0.84,1)" x="320.24" y="745" textLength="37.62" lengthAdjust="spacing" word-spacing="3" font-size="11.9" fill="#787878">Alzado</text>
<text transform="scale(0.84,1)" x="320.24" y="758.8" textLength="115.36" lengthAdjust="spacing" word-spacing="3" font-size="11.9" fill="#787878">Lamas horizontales</text>
<text transform="scale(0.84,1)" x="641.31" y="583.2" textLength="108.69" lengthAdjust="spacing" word-spacing="3" font-size="11.9" fill="#787878">Seccion horizontal</text>
<text transform="scale(0.84,1)" x="862.02" y="583.3" textLength="19.64" lengthAdjust="spacing" word-spacing="3" font-size="11.9" fill="#787878">Fijo</text>
<text transform="scale(0.84,1)" x="641.9" y="757.8" textLength="108.33" lengthAdjust="spacing" word-spacing="3" font-size="11.9" fill="#787878">Seccion horizontal</text>
<text transform="scale(0.84,1)" x="824.29" y="757.8" textLength="57.02" lengthAdjust="spacing" word-spacing="3" font-size="11.9" fill="#787878">Orientable</text>
<line x1="10" y1="760.3" x2="1009.8" y2="760.3" stroke="#d6d6d6" stroke-width="1.3"/>
</svg>
</body></html>
